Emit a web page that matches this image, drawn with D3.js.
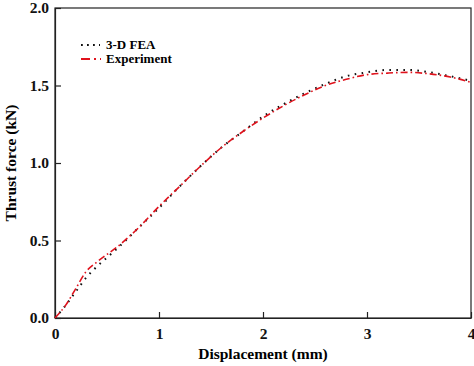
<!DOCTYPE html>
<html><head><meta charset="utf-8">
<script src="https://cdn.jsdelivr.net/npm/d3@7"></script>
<style>body{margin:0;background:#fff}svg{display:block}</style>
</head><body>
<svg id="c" width="474" height="366"></svg>
<script>
const xs = [0,0.1,0.2,0.3,0.4,0.5,0.6,0.8,1.0,1.2,1.4,1.6,1.8,2.0,2.2,2.4,2.6,2.8,3.0,3.2,3.4,3.6,3.8,4.0];
const feaY = [0,0.08,0.17,0.26,0.33,0.39,0.45,0.58,0.71,0.85,0.98,1.10,1.20,1.30,1.38,1.45,1.51,1.56,1.585,1.60,1.60,1.585,1.56,1.53];
const expY = [0,0.08,0.19,0.30,0.36,0.41,0.46,0.58,0.72,0.85,0.98,1.10,1.20,1.29,1.37,1.44,1.50,1.54,1.57,1.58,1.585,1.575,1.555,1.52];
const xTicks = [0,1,2,3,4];
const yTicks = [0,0.5,1.0,1.5,2.0];
const seriesNames = ["3-D FEA","Experiment"];

const svg = d3.select("#c");
const L=55,R=471,T=8,B=318;
const x = d3.scaleLinear().domain([0,4]).range([L,R]);
const y = d3.scaleLinear().domain([0,2]).range([B,T]);
const font = "'Liberation Serif','Times New Roman',serif";

svg.append("rect").attr("x",L).attr("y",T).attr("width",R-L).attr("height",B-T)
  .attr("fill","none").attr("stroke","#222").attr("stroke-width",1.2);

const xa = svg.append("g").attr("transform",`translate(0,${B})`)
  .call(d3.axisBottom(x).tickValues(xTicks).tickFormat(d3.format("d")).tickSizeInner(-6).tickSizeOuter(0).tickPadding(10));
const ya = svg.append("g").attr("transform",`translate(${L},0)`)
  .call(d3.axisLeft(y).tickValues(yTicks).tickFormat(d3.format(".1f")).tickSizeInner(-6).tickSizeOuter(0).tickPadding(6));
[xa,ya].forEach(a=>{
  a.select(".domain").attr("stroke","#222").attr("stroke-width",1.2);
  a.selectAll(".tick line").attr("stroke","#222").attr("stroke-width",1.2);
  a.selectAll(".tick text").attr("font-family",font).attr("font-weight","bold").attr("font-size",15.5).attr("fill","#111");
});

svg.append("text").attr("x",263).attr("y",359).attr("text-anchor","middle")
  .attr("font-family",font).attr("font-weight","bold").attr("font-size",15.5).text("Displacement (mm)");
svg.append("text").attr("transform",`translate(16,${(T+B)/2}) rotate(-90)`).attr("text-anchor","middle")
  .attr("font-family",font).attr("font-weight","bold").attr("font-size",15.5).text("Thrust force (kN)");

const line = d3.line().curve(d3.curveMonotoneX);
const fea = xs.map((v,i)=>[x(v),y(feaY[i])]);
const ex = xs.map((v,i)=>[x(v),y(expY[i])]);
svg.append("path").attr("d",line(fea)).attr("fill","none").attr("stroke","#111")
  .attr("stroke-width",2).attr("stroke-dasharray","1.6,5.4");
svg.append("path").attr("d",line(ex)).attr("fill","none").attr("stroke","#e0121c")
  .attr("stroke-width",1.6).attr("stroke-dasharray","7,3,1.6,3");

// legend
const lg = svg.append("g");
lg.append("line").attr("x1",81).attr("x2",100).attr("y1",45).attr("y2",45)
  .attr("stroke","#111").attr("stroke-width",2).attr("stroke-dasharray","1.8,4.2");
lg.append("line").attr("x1",81).attr("x2",101).attr("y1",59).attr("y2",59)
  .attr("stroke","#e0121c").attr("stroke-width",2).attr("stroke-dasharray","9,4,2,4");
lg.append("text").attr("x",106).attr("y",49).attr("font-family",font).attr("font-weight","bold").attr("font-size",13).text(seriesNames[0]);
lg.append("text").attr("x",106).attr("y",63).attr("font-family",font).attr("font-weight","bold").attr("font-size",13).text(seriesNames[1]);
</script>
</body></html>
